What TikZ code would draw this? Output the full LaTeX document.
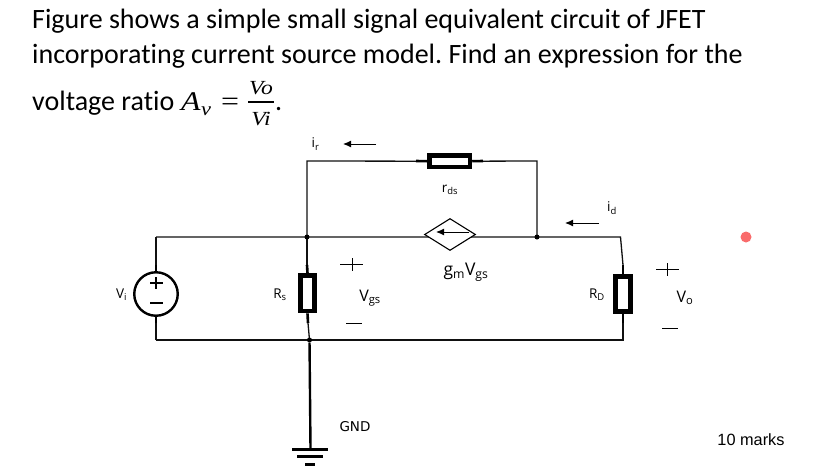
\documentclass[tikz,border=0pt]{standalone}
\usepackage{fontspec}
\setmainfont[Ligatures=NoCommon]{Carlito}
\newfontfamily\lblfont{Open Sans}
\newfontfamily\gndfont{DejaVu Sans}
\newfontfamily\marksfont{Liberation Sans}
\newfontfamily\eqfont[FakeStretch=1.18]{Liberation Serif}
\usetikzlibrary{arrows.meta,shapes.geometric}
\definecolor{wirecol}{HTML}{111111}
\definecolor{dotred}{HTML}{F96B6B}
\tikzset{
  wire/.style={draw=wirecol,line width=1.3pt},
  stub/.style={draw=black,line width=2.6pt},
  resv/.style={draw=black,fill=white,line width=4.6pt,minimum width=14.5pt,minimum height=35.5pt,inner sep=0pt},
  resh/.style={draw=black,fill=white,line width=4.6pt,minimum width=40.5pt,minimum height=11.5pt,inner sep=0pt},
  junction/.style={circle,fill=black,inner sep=0pt,minimum size=5pt},
  para/.style={anchor=base west,inner sep=0pt,font=\fontsize{28}{34}\selectfont\frenchspacing},
  eqbig/.style={anchor=base west,inner sep=0pt,font=\eqfont\itshape\fontsize{27}{30}\selectfont},
  eqsub/.style={anchor=base west,inner sep=0pt,font=\eqfont\itshape\fontsize{19}{22}\selectfont},
  eqfrac/.style={anchor=base,inner sep=0pt,font=\eqfont\itshape\fontsize{20}{24}\selectfont},
  lbl/.style={inner sep=0pt,font=\lblfont\fontsize{13.5}{15}\selectfont},
  biglbl/.style={inner sep=0pt,font=\lblfont\fontsize{16}{18}\selectfont},
  sign/.style={draw=black,line width=0.8pt},
  curarrow/.style={draw=black,line width=1pt,-{Latex[length=8pt,width=7pt]}},
  gbar/.style={draw=black,line width=3pt},
}
\begin{document}
\begin{tikzpicture}[x=1pt,y=-1pt]
\useasboundingbox (0,0) rectangle (816,474);
% question text
\node[para] (l1) at (32,28.5) {Figure shows a simple small signal equivalent circuit of JFET};
\node[para] (l2) at (32,63.5) {incorporating current source model. Find an expression for the};
\node[para] (l3) at (32,110) {voltage ratio};
\node[eqbig] (eA) at (181,110) {A};
\node[eqsub] (ev) at (201,115) {v};
\node[anchor=base,inner sep=0pt,font=\eqfont\fontsize{27}{30}\selectfont] (eeq) at (230,110) {=};
\node[eqfrac] (eVo) at (261,94) {Vo};
\node[eqfrac] (eVi) at (261,125) {Vi};
\draw[draw=black,line width=1.1pt] (248,102) -- (274,102);
\node[para] (edot) at (275,110) {.};
% wire corners and stubs
\coordinate (srcT) at (156,237);
\coordinate (srcB) at (156,340);
\coordinate (rsT) at (307,265);
\coordinate (rsB) at (308,323);
\coordinate (topL) at (307,161);
\coordinate (topR) at (537,161);
\coordinate (rdC) at (620.5,237);
\coordinate (rdT) at (623,265);
\coordinate (rdB) at (623,323);
\coordinate (botR) at (623,340);
\coordinate (gndT) at (310.5,449);
% components
\node[circle,draw=black,fill=white,line width=2.4pt,minimum size=43.5pt,inner sep=0pt] (vs) at (156,294) {};
\node[resv] (rs) at (307.5,293.3) {};
\node[resv] (rd) at (623,294) {};
\node[resh] (rds) at (449.7,161.2) {};
% wires
\draw[wire] (srcT) -- (rdC) -- (rdT);
\draw[wire] (srcT) -- (vs.north);
\draw[wire] (srcB) -- (vs.south);
\draw[wire] (srcB) -- (botR) -- (rd.south);
\draw[wire] (307,237) -- (topL) -- (rds.west);
\draw[wire] (rds.east) -- (topR) -- (537,237);
\draw[wire] (307,237) -- (rsT);
\draw[wire] (rsB) -- (309.5,340);
% junctions
\node[junction] (j1) at (307,237) {};
\node[junction] (j2) at (537,237) {};
\node[junction] (j3) at (309.5,340) {};
% dependent source sits on the wire
\node[diamond,draw=black,fill=white,line width=1.1pt,minimum width=51pt,minimum height=32pt,inner sep=0pt] (cs) at (450,234.5) {};
% thick stubs
\draw[stub] (156,265) -- (vs.north);
\draw[stub] (156,323) -- (vs.south);
\draw[stub] (rsT) -- (rs.north);
\draw[stub] (rsB) -- (rs.south);
\draw[stub] (rdT) -- (rd.north);
\draw[stub] (rdB) -- (rd.south);
\draw[stub] (416,161) -- (rds.west);
\draw[stub] (483,161) -- (rds.east);
% ground
\draw[draw=black,line width=2.4pt] (j3) -- (gndT);
\draw[gbar] (292,449) -- (328,449);
\draw[gbar] (297,456.5) -- (323,456.5);
\draw[gbar] (305,464) -- (315,464);
% source polarity
\draw[draw=black,line width=2.8pt] (150,283) -- (162.5,283) (156,277) -- (156,289);
\draw[draw=black,line width=2.8pt] (150,303) -- (162.5,303);
% current arrows
\draw[curarrow] (469,232) -- (436,232);
\draw[curarrow] (376,144) -- (343,144);
\draw[curarrow] (599,223) -- (565,223);
% polarity marks
\draw[sign] (340,264) -- (363,264) (352,258) -- (352,271);
\draw[sign] (346,323) -- (362,323);
\draw[sign] (656,269) -- (679,269) (667,263) -- (667,276);
\draw[sign] (662,328) -- (678,328);
% labels
\node[lbl] (lvi) at (121.5,295) {V\textsubscript{i}};
\node[lbl] (lrs) at (280,295) {R\textsubscript{s}};
\node[lbl] (lrd) at (597,295) {R\textsubscript{D}};
\node[lbl] (lrds) at (450,189.5) {r\textsubscript{ds}};
\node[lbl] (lir) at (315.5,144) {i\textsubscript{r}};
\node[lbl] (lid) at (612,208) {i\textsubscript{d}};
\node[biglbl,font=\lblfont\fontsize{17.5}{20}\selectfont] (lgm) at (466,272.5) {g\textsubscript{m}V\textsubscript{gs}};
\node[biglbl] (lvgs) at (370,298) {V\textsubscript{gs}};
\node[biglbl] (lvo) at (685,298) {V\textsubscript{o}};
\node[inner sep=0pt,font=\gndfont\fontsize{13.5}{15}\selectfont] (lgnd) at (355,426.5) {GND};
\node[inner sep=0pt,font=\marksfont\fontsize{16.3}{18}\selectfont] (lm) at (751,440) {10 marks};
\node[circle,fill=dotred,inner sep=0pt,minimum size=11pt] (dot) at (746,237) {};
\end{tikzpicture}
\end{document}
